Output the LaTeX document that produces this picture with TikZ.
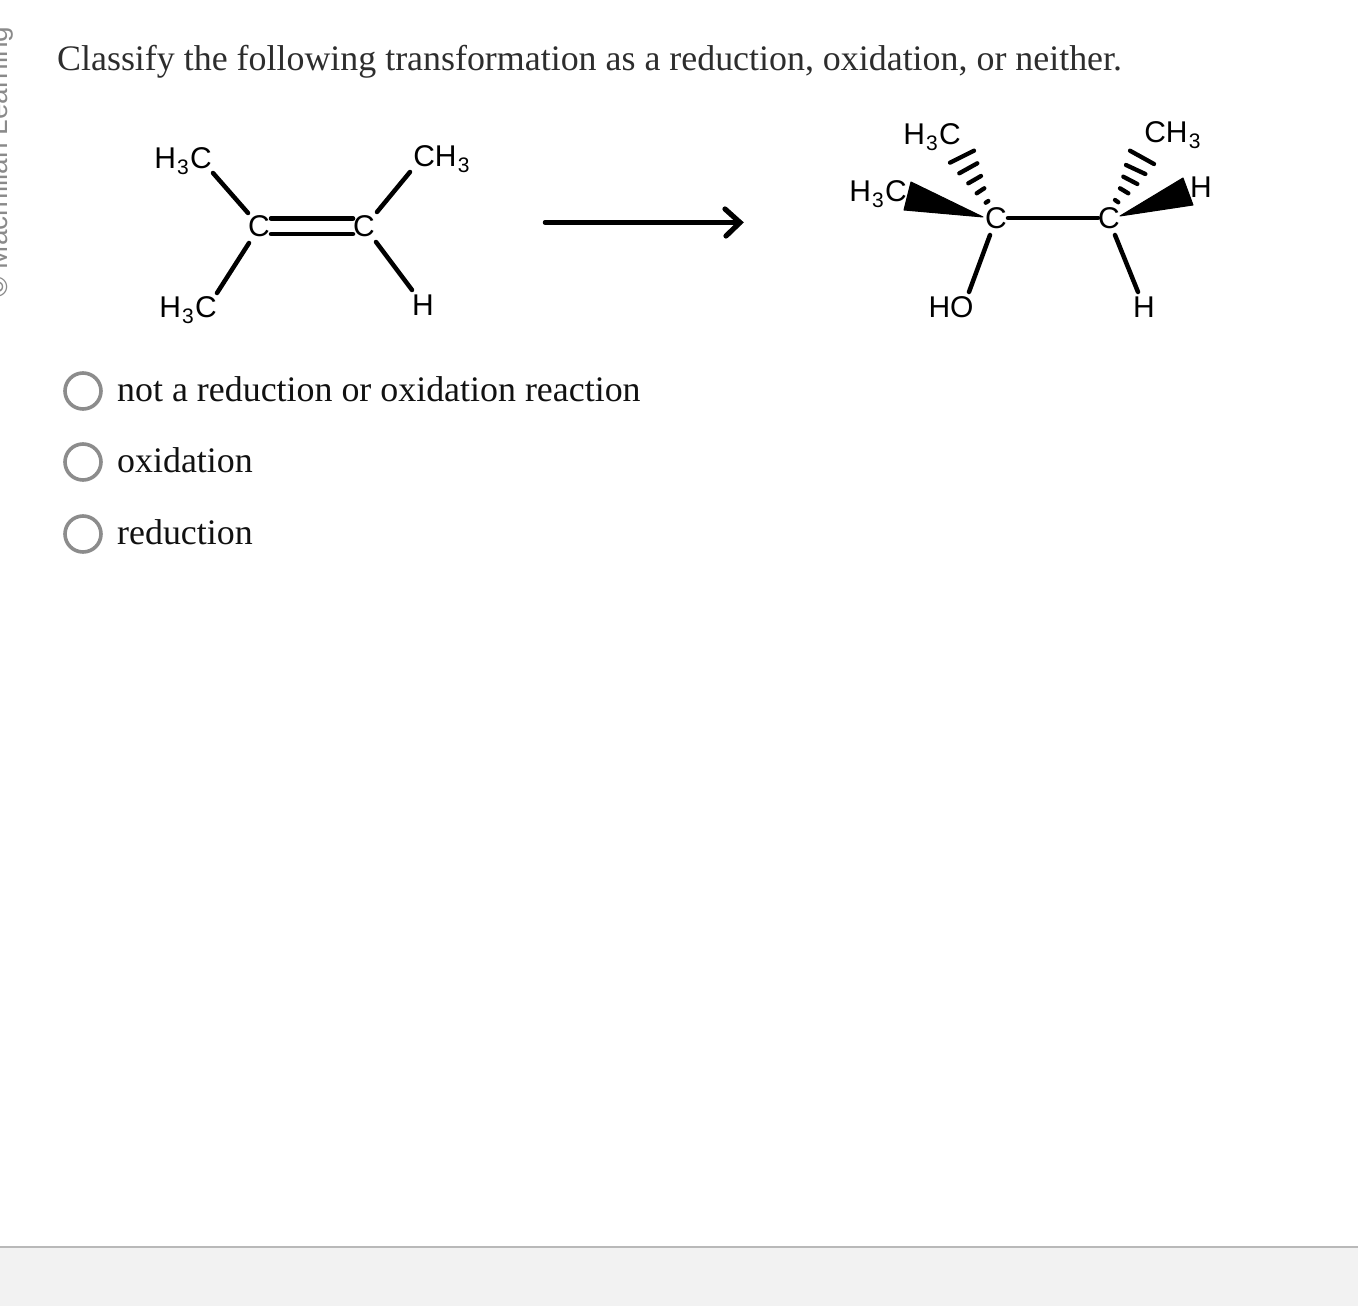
\documentclass[tikz,border=0pt]{standalone}
\usepackage{fontspec}
\setmainfont{Liberation Serif}
\newfontfamily\chemfont{Liberation Sans}
\usetikzlibrary{calc}
\definecolor{ink}{HTML}{2D2D2D}
\definecolor{optink}{HTML}{111111}
\definecolor{ring}{HTML}{8C8C8C}
\definecolor{footer}{HTML}{F2F2F2}
\definecolor{footline}{HTML}{B9B9B9}
\definecolor{mark}{HTML}{8A8A8A}
\newcommand{\subthree}{\kern1.2pt\raisebox{-0.2em}{\fontsize{21}{21}\selectfont 3}\kern1.2pt}
\tikzset{
  chem/.style={font=\chemfont\fontsize{30}{30}\selectfont, inner sep=0pt, text=black},
  bond/.style={draw=black, line width=4.5pt, line cap=round},
  hash/.style={draw=black, line width=4.3pt, line cap=round},
  wedge/.style={fill=black, draw=black, line width=1pt, line join=round},
  prompt/.style={font=\fontsize{35.9}{36}\selectfont, text=ink, anchor=base west, inner sep=0pt},
  optiontext/.style={prompt, text=optink},
  radio/.style={circle, draw=ring, line width=3.6pt, fill=white, minimum size=36pt, inner sep=0pt}
}
\begin{document}
\begin{tikzpicture}[x=1pt,y=-1pt]
\useasboundingbox (0,0) rectangle (1358,1308);
\begin{scope}
\clip (0,0) rectangle (1358,1308);
\node[font=\chemfont\fontsize{28}{28}\selectfont, text=mark, rotate=90, anchor=base, inner sep=0pt] (wm) at (7,162) {© Macmillan Learning};
\end{scope}
\fill[footer] (0,1247) rectangle (1358,1306);
\fill[footline] (0,1246) rectangle (1358,1248);

\node[prompt] (title) at (57,71) {Classify the following transformation as a reduction, oxidation, or neither.};

% left molecule
\node[chem] (c1) at (259,226) {C};
\node[chem] (c2) at (364,226) {C};
\node[chem] (a1) at (183,161) {H\subthree C};
\node[chem] (a2) at (442,159) {CH\subthree};
\node[chem] (a3) at (188,310) {H\subthree C};
\node[chem] (a4) at (423,305) {H};
\draw[bond] ([shift={(-11,-13)}]c1.center) -- ([shift={(30,12)}]a1.center);
\draw[bond] ([shift={(-10,17)}]c1.center) -- ([shift={(29,-17)}]a3.center);
\draw[bond] ([shift={(13,-14)}]c2.center) -- ([shift={(-32,13)}]a2.center);
\draw[bond] ([shift={(12,16)}]c2.center) -- ([shift={(-11,-15)}]a4.center);
\draw[bond] ([shift={(12,-7.5)}]c1.center) -- ([shift={(-11,-7.5)}]c2.center);
\draw[bond] ([shift={(12,8)}]c1.center) -- ([shift={(-11,8)}]c2.center);

% arrow
\coordinate (arrowstart) at (545,222.5);
\coordinate (arrowend) at (740,222.5);
\draw[bond] (arrowstart) -- (arrowend);
\draw[bond, line width=5.2pt] ([shift={(-15,-13.5)}]arrowend) -- (arrowend) -- ([shift={(-14,13.5)}]arrowend);

% right molecule
\node[chem] (c3) at (996,218) {C};
\node[chem] (c4) at (1109,218) {C};
\node[chem] (b1) at (932,137) {H\subthree C};
\node[chem] (b2) at (1173,135) {CH\subthree};
\node[chem] (b3) at (878,194) {H\subthree C};
\node[chem] (b4) at (951,307) {HO};
\node[chem] (b5) at (1144,307) {H};
\node[chem] (b6) at (1201,187) {H};
\draw[bond] ([shift={(12,0)}]c3.center) -- ([shift={(-11,0)}]c4.center);
\draw[bond] ([shift={(-6,17)}]c3.center) -- ([shift={(18,-15)}]b4.center);
\draw[bond] ([shift={(6,17)}]c4.center) -- ([shift={(-6,-15)}]b5.center);
\fill[wedge] ([shift={(-13,-1)}]c3.center) -- ([shift={(33,-12)}]b3.center) -- ([shift={(26,16)}]b3.center) -- cycle;
\fill[wedge] ([shift={(11,-2)}]c4.center) -- ([shift={(-18,-9)}]b6.center) -- ([shift={(-8,18)}]b6.center) -- cycle;
\draw[hash] (950,162.7) -- (974,150.7);
\draw[hash] (959.3,173.3) -- (977.3,163.3);
\draw[hash] (968.3,183.3) -- (981,176);
\draw[hash] (976.7,193.3) -- (984.3,188.3);
\draw[hash] (985.7,202.7) -- (988.3,201);
\draw[hash] (1130,150.7) -- (1154,164);
\draw[hash] (1126,165) -- (1145.3,174);
\draw[hash] (1123.3,176.7) -- (1137.3,184);
\draw[hash] (1120,188.3) -- (1128.3,193.3);
\draw[hash] (1115,200) -- (1118.3,202.3);

% options
\node[radio] (r1) at (83,391) {};
\node[radio] (r2) at (83,462) {};
\node[radio] (r3) at (83,534) {};
\node[optiontext] (o1) at (117,401) {not a reduction or oxidation reaction};
\node[optiontext] (o2) at (117,472) {oxidation};
\node[optiontext] (o3) at (117,544) {reduction};
\end{tikzpicture}
\end{document}
